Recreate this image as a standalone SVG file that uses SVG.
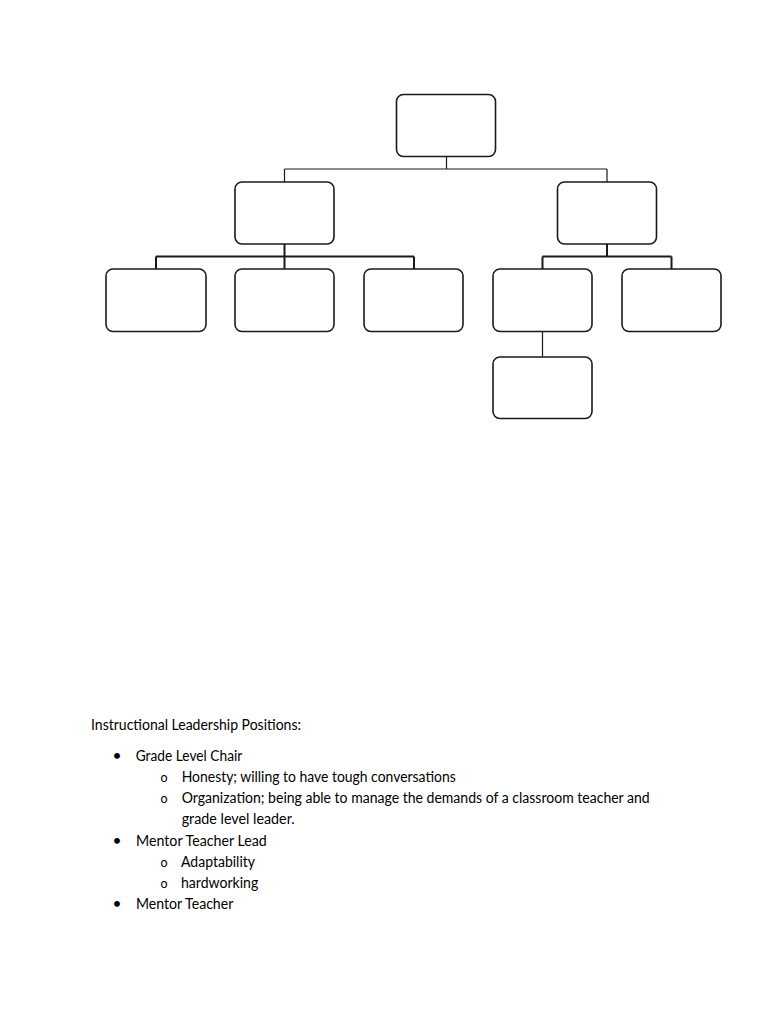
<svg xmlns="http://www.w3.org/2000/svg" width="768" height="1024" viewBox="0 0 768 1024">
  <style>
    .box { fill: #ffffff; stroke: #1a1a1a; stroke-width: 1.6; }
    .c1 { fill: none; stroke: #1a1a1a; stroke-width: 1.2; }
    .c2 { fill: none; stroke: #1a1a1a; stroke-width: 2; }
    .t { font-family: Lato, "Liberation Sans", sans-serif; font-size: 15.5px; fill: #000000; }
    .sub { font-family: Lato, "Liberation Sans", sans-serif; font-size: 12.5px; fill: #000000; }
  </style>
  <rect x="0" y="0" width="768" height="1024" fill="#ffffff"/>
  <g id="connectors">
    <path class="c1" d="M446.5 157 V169 M284.5 169 H607 M284.5 169 V182 M607 169 V182"/>
    <path class="c2" d="M284.5 244 V256.5 M156 256.5 H414 M156 256.5 V269 M284.5 256.5 V269 M414 256.5 V269"/>
    <path class="c2" d="M607 244 V256.5 M542.5 256.5 H671.5 M542.5 256.5 V269 M671.5 256.5 V269"/>
    <path class="c1" d="M542.5 331.5 V357"/>
  </g>
  <g id="root"><rect class="box" x="396.5" y="94.5" width="99" height="62" rx="7"/></g>
  <g id="mid-left"><rect class="box" x="235" y="182" width="99" height="62" rx="7"/></g>
  <g id="mid-right"><rect class="box" x="557.5" y="182" width="99" height="62" rx="7"/></g>
  <g id="leaf-1"><rect class="box" x="106" y="269" width="100" height="62.5" rx="7"/></g>
  <g id="leaf-2"><rect class="box" x="235" y="269" width="99" height="62.5" rx="7"/></g>
  <g id="leaf-3"><rect class="box" x="364" y="269" width="99" height="62.5" rx="7"/></g>
  <g id="leaf-4"><rect class="box" x="493" y="269" width="99" height="62.5" rx="7"/></g>
  <g id="leaf-5"><rect class="box" x="622" y="269" width="99" height="62.5" rx="7"/></g>
  <g id="leaf-6"><rect class="box" x="493" y="357" width="99" height="61.5" rx="7"/></g>
  <g id="text">
    <text class="t" x="91" y="730" textLength="210" lengthAdjust="spacingAndGlyphs">Instructional Leadership Positions:</text>
    <text class="t" x="112.5" y="761">•</text>
    <text class="t" x="135.7" y="761" textLength="106.6" lengthAdjust="spacingAndGlyphs">Grade Level Chair</text>
    <text class="sub" x="160.5" y="781.5">o</text>
    <text class="t" x="181.7" y="781.5" textLength="274" lengthAdjust="spacingAndGlyphs">Honesty; willing to have tough conversations</text>
    <text class="sub" x="160.5" y="802.8">o</text>
    <text class="t" x="181.7" y="802.8" textLength="468" lengthAdjust="spacingAndGlyphs">Organization; being able to manage the demands of a classroom teacher and</text>
    <text class="t" x="181.7" y="823.5" textLength="113" lengthAdjust="spacingAndGlyphs">grade level leader.</text>
    <text class="t" x="112.5" y="845.8">•</text>
    <text class="t" x="136" y="845.8" textLength="130.7" lengthAdjust="spacingAndGlyphs">Mentor Teacher Lead</text>
    <text class="sub" x="160.5" y="866.5">o</text>
    <text class="t" x="181" y="866.5" textLength="74" lengthAdjust="spacingAndGlyphs">Adaptability</text>
    <text class="sub" x="160.5" y="887.8">o</text>
    <text class="t" x="181" y="887.8" textLength="77.3" lengthAdjust="spacingAndGlyphs">hardworking</text>
    <text class="t" x="112.5" y="909">•</text>
    <text class="t" x="136" y="909" textLength="97.3" lengthAdjust="spacingAndGlyphs">Mentor Teacher</text>
  </g>
</svg>
